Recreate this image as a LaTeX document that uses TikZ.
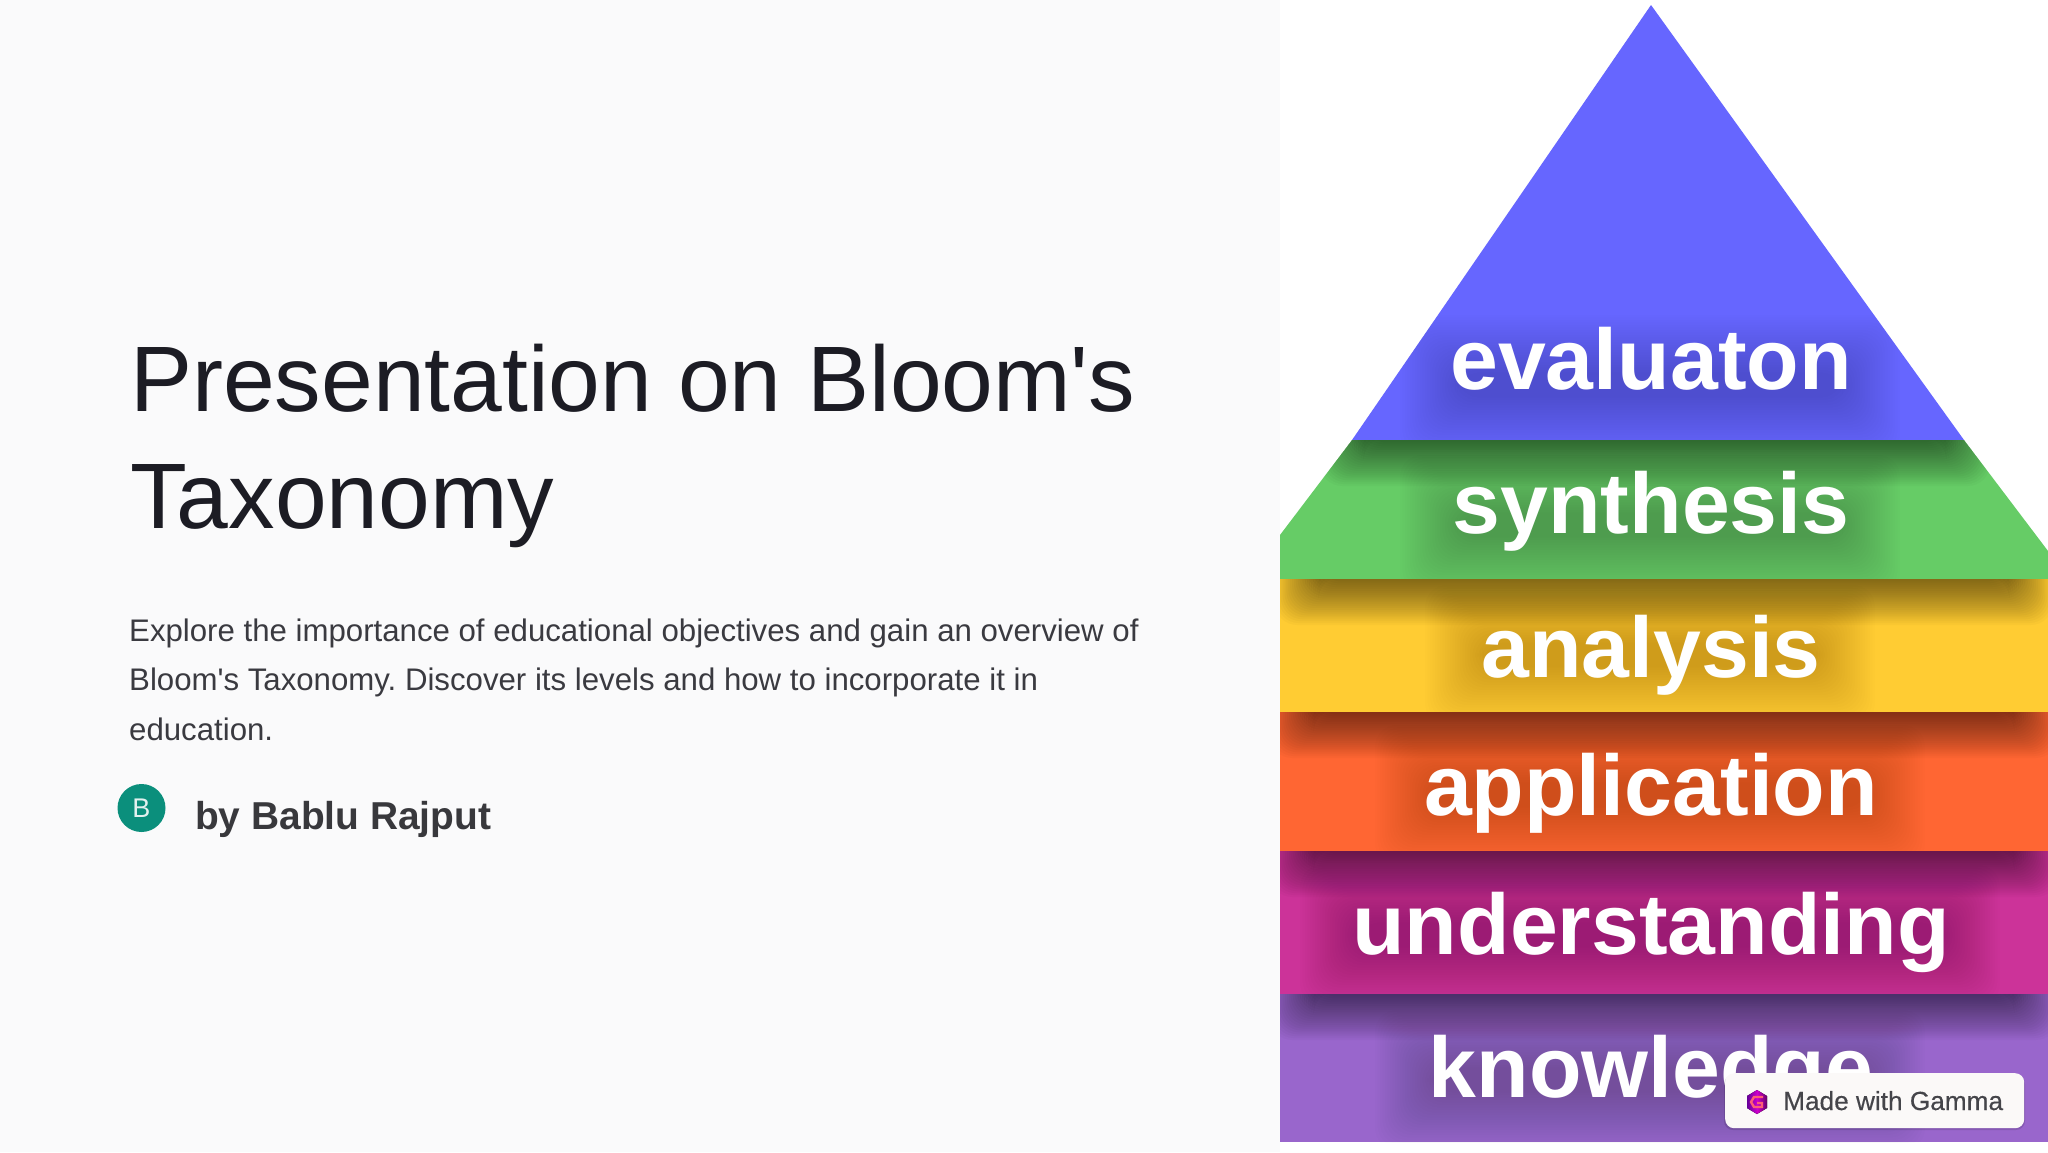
\documentclass[tikz,border=0pt]{standalone}
\usepackage{fontspec}
\setmainfont{Liberation Sans}
\newfontfamily\plainfont{Liberation Sans}
\newfontfamily\badgefont[FakeBold=0.35]{Liberation Sans}
\definecolor{panel}{HTML}{FAFAFB}
\definecolor{inkdark}{HTML}{1C1C24}
\definecolor{inkbody}{HTML}{3A3A40}
\definecolor{inkby}{HTML}{38383C}
\definecolor{teal}{HTML}{0B8F7C}
\definecolor{cblue}{HTML}{6666FF}
\definecolor{cgreen}{HTML}{66CC66}
\definecolor{cyellow}{HTML}{FFCC33}
\definecolor{corange}{HTML}{FF6633}
\definecolor{cmagenta}{HTML}{CC3399}
\definecolor{cpurple}{HTML}{9966CC}
\definecolor{badgebg}{HTML}{FBF9F8}
\definecolor{badgeink}{HTML}{45454A}
\newcommand{\softrect}[6]{% x0 y0 x1 y1 opacity step
  \foreach \i in {0,...,23}{
    \fill[black,opacity=#5,rounded corners=22pt]
      ({#1+\i*#6},{#2+\i*#6}) rectangle ({#3-\i*#6},{#4-\i*#6});
  }}
\newcommand{\sq}{{\plainfont\char"27 }}
\tikzset{
  band/.style={font=\fontsize{86}{86}\selectfont\bfseries,text=white,inner sep=0pt,anchor=base},
  titleline/.style={font=\fontsize{93}{93}\selectfont,text=inkdark,inner sep=0pt,anchor=base west},
  bodyline/.style={font=\fontsize{31.2}{31.2}\selectfont\frenchspacing,text=inkbody,inner sep=0pt,anchor=base west},
}
\begin{document}
\begin{tikzpicture}[x=1pt,y=-1pt]
\useasboundingbox (0,0) rectangle (2048,1152);
\fill[panel] (0,0) rectangle (1280,1152);
\fill[white] (1280,0) rectangle (2048,1152);
% blue
\begin{scope}
\clip (1651,5) -- (1964,440) -- (1352,440) -- cycle;
\fill[cblue] (1280,0) rectangle (2048,440);
\softrect{1400}{315}{1900}{455}{0.008}{2.5}
\end{scope}
% green
\begin{scope}
\clip (1352,440) -- (1964,440) -- (2048,551) -- (2048,579) -- (1280,579) -- (1280,535) -- cycle;
\fill[cgreen] (1280,430) rectangle (2048,579);
\softrect{1320}{394}{1990}{486}{0.024}{1.9}
\softrect{1400}{455}{1900}{595}{0.008}{2.5}
\end{scope}
% yellow
\begin{scope}
\clip (1280,579) rectangle (2048,712);
\fill[cyellow] (1280,579) rectangle (2048,712);
\softrect{1275}{533}{2053}{625}{0.025}{1.9}
\softrect{1425}{585}{1875}{725}{0.008}{2.5}
\end{scope}
% orange
\begin{scope}
\clip (1280,712) rectangle (2048,851);
\fill[corange] (1280,712) rectangle (2048,851);
\softrect{1270}{666}{2058}{758}{0.025}{1.9}
\softrect{1375}{725}{1925}{865}{0.008}{2.5}
\end{scope}
% magenta
\begin{scope}
\clip (1280,851) rectangle (2048,994);
\fill[cmagenta] (1280,851) rectangle (2048,994);
\softrect{1270}{805}{2058}{897}{0.025}{1.9}
\softrect{1300}{865}{2000}{1005}{0.008}{2.5}
\end{scope}
% purple
\begin{scope}
\clip (1280,994) rectangle (2048,1142);
\fill[cpurple] (1280,994) rectangle (2048,1142);
\softrect{1270}{948}{2058}{1040}{0.025}{1.9}
\softrect{1375}{1010}{1925}{1150}{0.008}{2.5}
\end{scope}
\node[band] (evaluation) at (1651,389) {evaluaton};
\node[band] (synthesis) at (1651,533) {synthesis};
\node[band] (analysis) at (1651,677) {analysis};
\node[band] (application) at (1651,815) {application};
\node[band] (understanding) at (1651,954) {understanding};
\node[band] (knowledge) at (1651,1097) {knowledge};
% left text
\node[titleline] (title1) at (130,411) {Presentation on Bloom\sq s};
\node[titleline] (title2) at (130,528) {Taxonomy};
\node[bodyline] (body1) at (129,641) {Explore the importance of educational objectives and gain an overview of};
\node[bodyline] (body2) at (129,690.5) {Bloom\sq s Taxonomy. Discover its levels and how to incorporate it in};
\node[bodyline] (body3) at (129,740.5) {education.};
\node[circle,fill=teal,minimum size=48pt,inner sep=0pt,text=white!88!teal,font=\fontsize{27}{27}\selectfont] (avatar) at (141.5,808) {B};
\node[inner sep=0pt,anchor=base west,text=inkby,font=\fontsize{38.9}{38.9}\selectfont\bfseries] (author) at (195,829) {by Bablu Rajput};
% badge
\fill[black,opacity=0.12,rounded corners=9pt] (1724,1075) rectangle (2025,1130);
\node[draw=none,fill=badgebg,rounded corners=9pt,minimum width=299pt,minimum height=55pt,inner sep=0pt,anchor=north west] (badge) at (1725,1073) {};
\node[inner sep=0pt,anchor=base west,text=badgeink,font=\badgefont\fontsize{26.2}{26.2}\selectfont] (badgetext) at (1783,1110) {Made with Gamma};
\fill[left color=violet!80!blue,right color=violet!80!black,middle color=magenta!60!violet] (1757,1090) -- (1767,1096) -- (1767,1108) -- (1757,1114) -- (1747,1108) -- (1747,1096) -- cycle;
\draw[orange!60!magenta!90!white,line width=2.4pt] (1763,1097) -- (1754,1097) -- (1751,1102) -- (1754,1107) -- (1762,1107) -- (1762,1103) -- (1757,1103);
\end{tikzpicture}
\end{document}
